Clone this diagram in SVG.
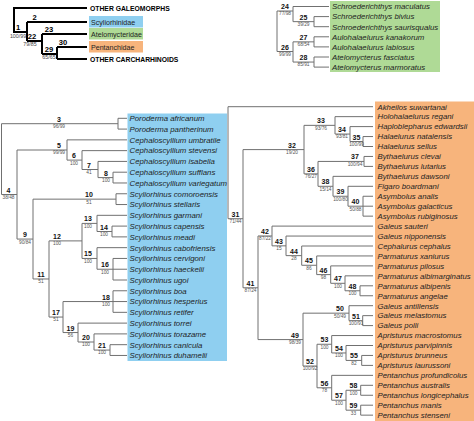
<svg xmlns="http://www.w3.org/2000/svg" width="474" height="421" viewBox="0 0 474 421">
<style>
.br{fill:none;stroke:#707070;stroke-width:1}
.lg{fill:none;stroke:#000;stroke-width:2}
text{font-family:"Liberation Sans",Arial,sans-serif}
.sp{font-style:italic;font-size:7.8px;fill:#1e1e1e}
.nn{font-weight:bold;font-size:7px;text-anchor:middle;fill:#111}
.sv{font-size:4.8px;text-anchor:middle;fill:#555}
.lgn{font-weight:bold;font-size:7.6px;text-anchor:middle;fill:#000}
.lgs{font-size:5.3px;text-anchor:middle;fill:#444}
.cap{font-weight:bold;font-size:6.8px;fill:#000}
.fam{font-size:7.1px;fill:#1e1e1e}
.blue{fill:#8fcff0}
.green{fill:#afda96}
.orange{fill:#f7b47c}
</style>
<rect width="474" height="421" fill="#fff"/>

<g id="boxes">
<rect class="blue" x="89" y="16" width="54" height="11.5"/>
<rect class="green" x="89" y="28" width="54" height="11.5"/>
<rect class="orange" x="89" y="41" width="54" height="11.5"/>
<rect class="green" x="330" y="1" width="110" height="71"/>
<rect class="blue" x="127.5" y="113.5" width="99.5" height="247.5"/>
<rect class="orange" x="375" y="101.5" width="99" height="319.5"/>
</g>

<g id="connectors">
<path class="lg" d="M87,8 H14 V32 H27 M27,22 H87 M27,22 V41 M27,41 H42 M42,34 V54 M42,34 H87 M42,54 H57 M57,47 V59 M57,47 H87 M57,59 H87"/>
<path class="br" d="M277,11 V51.5 M277,11 H293 M293,6.5 V21.65 M293,6.5 H329 M293,21.65 H314 M314,16.6 V26.7 M314,16.6 H329 M314,26.7 H329 M277,51.5 H293 M293,41.85 V62.05 M293,41.85 H314 M314,36.8 V46.9 M314,36.8 H329 M314,46.9 H329 M293,62.05 H314 M314,57 V67.1 M314,57 H329 M314,67.1 H329"/>
<path class="br" d="M1.5,123.7 V194.5 M1.5,123.7 H118 M118,118.3 V129.08 M118,118.3 H127 M118,129.08 H127
M1.5,194.5 H17 M17,150 V239.07
M17,150 H67 M67,139.86 V160.1 M67,139.86 H127
M67,160.1 H82 M82,150.64 V169.5 M82,150.64 H127
M82,169.5 H98 M98,161.42 V177.6 M98,161.42 H127
M98,177.6 H113 M113,172.2 V182.98 M113,172.2 H127 M113,182.98 H127
M17,239.07 H33 M33,199.15 V278.98
M33,199.15 H116 M116,193.76 V204.54 M116,193.76 H127 M116,204.54 H127
M33,278.98 H49 M49,240.9 V317.06
M49,240.9 H82 M82,223.4 V258.44
M82,223.4 H97 M97,215.32 V231.5 M97,215.32 H127
M97,231.5 H112 M112,226.1 V236.88 M112,226.1 H127 M112,236.88 H127
M82,258.44 H97 M97,247.66 V269.22 M97,247.66 H127
M97,269.22 H113 M113,258.44 V280 M113,258.44 H127 M113,269.22 H127 M113,280 H127
M49,317.06 H63 M63,301.56 V332.56
M63,301.56 H113 M113,290.78 V312.34 M113,290.78 H127 M113,301.56 H127 M113,312.34 H127
M63,332.56 H78 M78,323.12 V342 M78,323.12 H127
M78,342 H94 M94,333.9 V350.07 M94,333.9 H127
M94,350.07 H110 M110,344.68 V355.46 M110,344.68 H127 M110,355.46 H127"/>
<path class="br" d="M228,106.7 V218.69 M228,106.7 H373
M228,218.69 H243 M243,149.6 V287.78
M243,149.6 H304 M304,125.35 V173.86
M304,125.35 H335 M335,116.65 V134.05 M335,116.65 H373
M335,134.05 H350 M350,126.6 V141.5 M350,126.6 H373
M350,141.5 H363 M363,136.55 V146.5 M363,136.55 H373 M363,146.5 H373
M304,173.86 H318 M318,161.43 V186.3
M318,161.43 H364 M364,156.45 V166.4 M364,156.45 H373 M364,166.4 H373
M318,186.3 H333 M333,176.35 V196.25 M333,176.35 H373
M333,196.25 H348 M348,186.3 V206.2 M348,186.3 H373
M348,206.2 H363 M363,196.25 V216.15 M363,196.25 H373 M363,206.2 H373 M363,216.15 H373
M243,287.78 H258 M258,235.97 V339.59
M258,235.97 H272 M272,226.1 V245.85 M272,226.1 H373
M272,245.85 H286 M286,236.05 V255.64 M286,236.05 H373
M286,255.64 H301.7 M301.7,246 V265.28 M301.7,246 H373
M301.7,265.28 H316.7 M316.7,255.95 V274.6 M316.7,255.95 H373
M316.7,274.6 H330.7 M330.7,265.9 V283.3 M330.7,265.9 H373
M330.7,283.3 H345 M345,275.85 V290.78 M345,275.85 H373
M345,290.78 H360 M360,285.8 V295.75 M360,285.8 H373 M360,295.75 H373
M258,339.59 H303 M303,313.16 V366.02
M303,313.16 H349 M349,305.7 V320.63 M349,305.7 H373
M349,320.63 H362.7 M362.7,315.65 V325.6 M362.7,315.65 H373 M362.7,325.6 H373
M303,366.02 H317 M317,344.26 V387.79
M317,344.26 H331.7 M331.7,335.55 V352.96 M331.7,335.55 H373
M331.7,352.96 H346 M346,345.5 V360.43 M346,345.5 H373
M346,360.43 H361.7 M361.7,355.45 V365.4 M361.7,355.45 H373 M361.7,365.4 H373
M317,387.79 H331.7 M331.7,375.35 V400.23 M331.7,375.35 H373
M331.7,400.23 H346 M346,390.28 V410.18
M346,390.28 H360.7 M360.7,385.3 V395.25 M360.7,385.3 H373 M360.7,395.25 H373
M346,410.18 H360.7 M360.7,405.2 V415.15 M360.7,405.2 H373 M360.7,415.15 H373"/>
</g>

<g id="legend">
<text class="cap" x="90" y="10.5">OTHER GALEOMORPHS</text>
<text class="fam" x="91" y="24.5">Scyliorhinidae</text>
<text class="fam" x="91" y="36.5">Atelomycteridae</text>
<text class="fam" x="91" y="49.5">Pentanchidae</text>
<text class="cap" x="90" y="61.5">OTHER CARCHARHINOIDS</text>
<text class="lgn" x="18" y="30">1</text><text class="lgs" x="18" y="37.5">100/99</text>
<text class="lgn" x="34.5" y="19.5">2</text>
<text class="lgn" x="32" y="39">22</text><text class="lgs" x="30" y="45.5">79/85</text>
<text class="lgn" x="49" y="32">23</text>
<text class="lgn" x="49" y="52">29</text><text class="lgs" x="49" y="59">65/65</text>
<text class="lgn" x="63" y="45">30</text>
</g>

<g id="atelomycteridae">
<text class="sp" x="332" y="9.3">Schroederichthys maculatus</text>
<text class="sp" x="332" y="19.4">Schroederichthys bivius</text>
<text class="sp" x="332" y="29.5">Schroederichthys saurisqualus</text>
<text class="sp" x="332" y="39.6">Aulohalaelurus kanakorum</text>
<text class="sp" x="332" y="49.7">Aulohalaelurus labiosus</text>
<text class="sp" x="332" y="59.8">Atelomycterus fasciatus</text>
<text class="sp" x="332" y="69.9">Atelomycterus marmoratus</text>
<g id="n24"><text class="nn" x="285" y="9">24</text><text class="sv" x="285" y="15.4">77/98</text></g>
<g id="n25"><text class="nn" x="303.5" y="19.65">25</text><text class="sv" x="303.5" y="26">39/29</text></g>
<g id="n26"><text class="nn" x="285" y="49.5">26</text><text class="sv" x="285" y="55.9">99/99</text></g>
<g id="n27"><text class="nn" x="303.5" y="39.85">27</text><text class="sv" x="303.5" y="46.2">68/54</text></g>
<g id="n28"><text class="nn" x="303.5" y="60.05">28</text><text class="sv" x="303.5" y="66.4">85/91</text></g>
</g>

<g id="scyliorhinidae">
<text class="sp" x="129.5" y="121.1">Poroderma africanum</text>
<text class="sp" x="129.5" y="131.9">Poroderma pantherinum</text>
<text class="sp" x="129.5" y="142.7">Cephaloscyllium umbratile</text>
<text class="sp" x="129.5" y="153.4">Cephaloscyllium stevensi</text>
<text class="sp" x="129.5" y="164.2">Cephaloscyllium isabella</text>
<text class="sp" x="129.5" y="175">Cephaloscyllium sufflans</text>
<text class="sp" x="129.5" y="185.8">Cephaloscyllium variegatum</text>
<text class="sp" x="129.5" y="196.6">Scyliorhinus comoroensis</text>
<text class="sp" x="129.5" y="207.3">Scyliorhinus stellaris</text>
<text class="sp" x="129.5" y="218.1">Scyliorhinus garmani</text>
<text class="sp" x="129.5" y="228.9">Scyliorhinus capensis</text>
<text class="sp" x="129.5" y="239.7">Scyliorhinus meadi</text>
<text class="sp" x="129.5" y="250.5">Scyliorhinus cabofriensis</text>
<text class="sp" x="129.5" y="261.2">Scyliorhinus cervigoni</text>
<text class="sp" x="129.5" y="272">Scyliorhinus haeckelii</text>
<text class="sp" x="129.5" y="282.8">Scyliorhinus ugoi</text>
<text class="sp" x="129.5" y="293.6">Scyliorhinus boa</text>
<text class="sp" x="129.5" y="304.4">Scyliorhinus hesperius</text>
<text class="sp" x="129.5" y="315.1">Scyliorhinus retifer</text>
<text class="sp" x="129.5" y="325.9">Scyliorhinus torrei</text>
<text class="sp" x="129.5" y="336.7">Scyliorhinus torazame</text>
<text class="sp" x="129.5" y="347.5">Scyliorhinus canicula</text>
<text class="sp" x="129.5" y="358.3">Scyliorhinus duhamelii</text>
<g id="n3"><text class="nn" x="59" y="121.7">3</text><text class="sv" x="59" y="128.1">96/99</text></g>
<g id="n4"><text class="nn" x="8.5" y="192.5">4</text><text class="sv" x="8.5" y="198.9">38/48</text></g>
<g id="n5"><text class="nn" x="59" y="148">5</text><text class="sv" x="59" y="154.4">99/99</text></g>
<g id="n6"><text class="nn" x="74" y="158.1">6</text><text class="sv" x="74" y="164.5">100</text></g>
<g id="n7"><text class="nn" x="89" y="167.5">7</text><text class="sv" x="89" y="173.9">41</text></g>
<g id="n8"><text class="nn" x="106" y="175.6">8</text><text class="sv" x="106" y="182">100</text></g>
<g id="n9"><text class="nn" x="25" y="237.07">9</text><text class="sv" x="25" y="243.5">90/84</text></g>
<g id="n10"><text class="nn" x="89" y="197.15">10</text><text class="sv" x="89" y="203.55">51</text></g>
<g id="n11"><text class="nn" x="41" y="276.98">11</text><text class="sv" x="41" y="283.4">51</text></g>
<g id="n12"><text class="nn" x="57" y="238.9">12</text><text class="sv" x="57" y="245.3">100</text></g>
<g id="n13"><text class="nn" x="88" y="221.4">13</text><text class="sv" x="88" y="227.8">100</text></g>
<g id="n14"><text class="nn" x="104" y="229.5">14</text><text class="sv" x="104" y="235.9">100</text></g>
<g id="n15"><text class="nn" x="88" y="256.44">15</text><text class="sv" x="88" y="262.84">100</text></g>
<g id="n16"><text class="nn" x="105" y="267.22">16</text><text class="sv" x="105" y="273.62">100</text></g>
<g id="n17"><text class="nn" x="56" y="315.06">17</text><text class="sv" x="56" y="321.46">51</text></g>
<g id="n18"><text class="nn" x="106" y="299.56">18</text><text class="sv" x="106" y="305.96">100</text></g>
<g id="n19"><text class="nn" x="70.5" y="330.56">19</text><text class="sv" x="70.5" y="336.96">56</text></g>
<g id="n20"><text class="nn" x="86" y="340">20</text><text class="sv" x="86" y="346.4">100</text></g>
<g id="n21"><text class="nn" x="102" y="348.07">21</text><text class="sv" x="102" y="354.47">100</text></g>
</g>

<g id="pentanchidae">
<text class="sp" x="377.5" y="109.5">Akheilos suwartanai</text>
<text class="sp" x="377.5" y="119.45">Holohalaelurus regani</text>
<text class="sp" x="377.5" y="129.4">Haploblepharus edwardsii</text>
<text class="sp" x="377.5" y="139.35">Halaelurus natalensis</text>
<text class="sp" x="377.5" y="149.3">Halaelurus sellus</text>
<text class="sp" x="377.5" y="159.25">Bythaelurus clevai</text>
<text class="sp" x="377.5" y="169.2">Bythaelurus lutarius</text>
<text class="sp" x="377.5" y="179.15">Bythaelurus dawsoni</text>
<text class="sp" x="377.5" y="189.1">Figaro boardmani</text>
<text class="sp" x="377.5" y="199.05">Asymbolus analis</text>
<text class="sp" x="377.5" y="209">Asymbolus galacticus</text>
<text class="sp" x="377.5" y="218.95">Asymbolus rubiginosus</text>
<text class="sp" x="377.5" y="228.9">Galeus sauteri</text>
<text class="sp" x="377.5" y="238.85">Galeus nipponensis</text>
<text class="sp" x="377.5" y="248.8">Cephalurus cephalus</text>
<text class="sp" x="377.5" y="258.75">Parmaturus xaniurus</text>
<text class="sp" x="377.5" y="268.7">Parmaturus pilosus</text>
<text class="sp" x="377.5" y="278.65">Parmaturus albimarginatus</text>
<text class="sp" x="377.5" y="288.6">Parmaturus albipenis</text>
<text class="sp" x="377.5" y="298.55">Parmaturus angelae</text>
<text class="sp" x="377.5" y="308.5">Galeus antillensis</text>
<text class="sp" x="377.5" y="318.45">Galeus melastomus</text>
<text class="sp" x="377.5" y="328.4">Galeus polli</text>
<text class="sp" x="377.5" y="338.35">Apristurus macrostomus</text>
<text class="sp" x="377.5" y="348.3">Apristurus parvipinnis</text>
<text class="sp" x="377.5" y="358.25">Apristurus brunneus</text>
<text class="sp" x="377.5" y="368.2">Apristurus laurussoni</text>
<text class="sp" x="377.5" y="378.15">Pentanchus profundicolus</text>
<text class="sp" x="377.5" y="388.1">Pentanchus australis</text>
<text class="sp" x="377.5" y="398.05">Pentanchus longicephalus</text>
<text class="sp" x="377.5" y="408">Pentanchus manis</text>
<text class="sp" x="377.5" y="417.95">Pentanchus stenseni</text>
<g id="n31"><text class="nn" x="235.5" y="216.69">31</text><text class="sv" x="235.5" y="223.1">71/44</text></g>
<g id="n32"><text class="nn" x="292" y="147.6">32</text><text class="sv" x="292" y="154">19/20</text></g>
<g id="n33"><text class="nn" x="321" y="123.35">33</text><text class="sv" x="321" y="129.75">93/76</text></g>
<g id="n34"><text class="nn" x="342" y="132.05">34</text><text class="sv" x="342" y="138.45">93/81</text></g>
<g id="n35"><text class="nn" x="356.5" y="139.5">35</text><text class="sv" x="356.5" y="145.9">100/99</text></g>
<g id="n36"><text class="nn" x="311" y="171.86">36</text><text class="sv" x="311" y="178.26">76/27</text></g>
<g id="n37"><text class="nn" x="355" y="159.43">37</text><text class="sv" x="355" y="165.83">100/94</text></g>
<g id="n38"><text class="nn" x="325.5" y="184.3">38</text><text class="sv" x="325.5" y="190.7">15/14</text></g>
<g id="n39"><text class="nn" x="340.5" y="194.25">39</text><text class="sv" x="340.5" y="200.65">100/80</text></g>
<g id="n40"><text class="nn" x="355.5" y="204.2">40</text><text class="sv" x="355.5" y="210.6">50/88</text></g>
<g id="n41"><text class="nn" x="250.5" y="285.78">41</text><text class="sv" x="250.5" y="292.18">87/24</text></g>
<g id="n42"><text class="nn" x="265" y="233.97">42</text><text class="sv" x="265" y="240.37">87/22</text></g>
<g id="n43"><text class="nn" x="279" y="243.85">43</text><text class="sv" x="279" y="250.25">15</text></g>
<g id="n44"><text class="nn" x="294" y="253.64">44</text><text class="sv" x="294" y="260.04">28</text></g>
<g id="n45"><text class="nn" x="309" y="263.28">45</text><text class="sv" x="309" y="269.68">86</text></g>
<g id="n46"><text class="nn" x="323.5" y="272.6">46</text><text class="sv" x="323.5" y="279">98</text></g>
<g id="n47"><text class="nn" x="338" y="281.3">47</text><text class="sv" x="338" y="287.7">100</text></g>
<g id="n48"><text class="nn" x="352.5" y="288.78">48</text><text class="sv" x="352.5" y="295.18">100</text></g>
<g id="n49"><text class="nn" x="295" y="337.59">49</text><text class="sv" x="295" y="343.99">98/39</text></g>
<g id="n50"><text class="nn" x="340" y="311.16">50</text><text class="sv" x="340" y="317.56">50/49</text></g>
<g id="n51"><text class="nn" x="356" y="318.63">51</text><text class="sv" x="356" y="325.03">100/91</text></g>
<g id="n52"><text class="nn" x="310" y="364.02">52</text><text class="sv" x="310" y="370.42">100/92</text></g>
<g id="n53"><text class="nn" x="324.5" y="342.26">53</text><text class="sv" x="324.5" y="348.66">100</text></g>
<g id="n54"><text class="nn" x="339" y="350.96">54</text><text class="sv" x="339" y="357.36">100</text></g>
<g id="n55"><text class="nn" x="354" y="358.43">55</text><text class="sv" x="354" y="364.83">82</text></g>
<g id="n56"><text class="nn" x="324.5" y="385.79">56</text><text class="sv" x="324.5" y="392.19">78</text></g>
<g id="n57"><text class="nn" x="339" y="398.23">57</text><text class="sv" x="339" y="404.63">100</text></g>
<g id="n58"><text class="nn" x="353.5" y="388.28">58</text><text class="sv" x="353.5" y="394.68">100</text></g>
<g id="n59"><text class="nn" x="353.5" y="408.18">59</text><text class="sv" x="353.5" y="414.58">33</text></g>
</g>
</svg>
